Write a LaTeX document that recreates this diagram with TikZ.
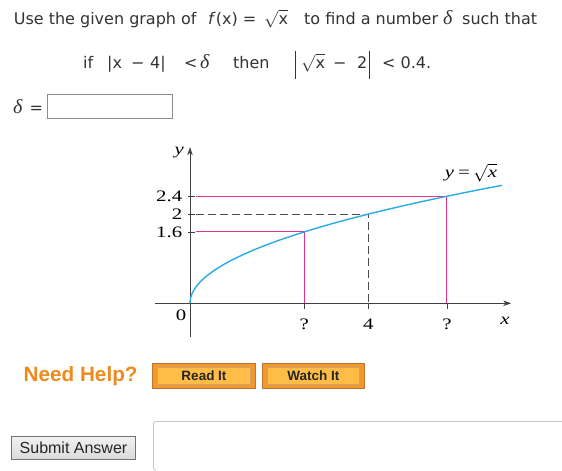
\documentclass[tikz,border=0pt]{standalone}
\usepackage{fontspec}
\setmainfont{DejaVu Sans}
\newfontfamily\graphfont[FakeStretch=1.3]{Liberation Serif}
\newfontfamily\deltafont{Liberation Serif}
\newfontfamily\helpfont{Liberation Sans}
\usetikzlibrary{arrows.meta}

\definecolor{curveblue}{HTML}{2BAAE6}
\definecolor{markpink}{HTML}{E8318F}
\definecolor{helporange}{HTML}{EE8A1E}
\definecolor{btnouter}{HTML}{F2982C}
\definecolor{btninner}{HTML}{FFBC46}
\definecolor{btnedge}{HTML}{BF7630}
\definecolor{textgray}{HTML}{333333}

\newcommand{\dlt}{{\deltafont\itshape\fontsize{20}{20}\selectfont δ}}
\newcommand{\absbar}{\raisebox{-11pt}{\rule{0.8pt}{28pt}}}

\tikzset{
  qtext/.style={anchor=base west, inner sep=0pt, text=textgray, font=\fontsize{16}{19}\selectfont},
  glabel/.style={inner sep=0pt, font=\graphfont\fontsize{16}{18}\selectfont},
  axis/.style={thick, black!75, -{Stealth[length=8pt,width=5.5pt]}},
  gtick/.style={black!75, thick},
  curve/.style={curveblue, line width=1.4pt},
  pinkline/.style={markpink, line width=0.9pt},
  dashline/.style={black!70, line width=0.9pt, dash pattern=on 8pt off 4pt},
  btnbox/.style={draw=btnedge, fill=btnouter, line width=0.8pt},
  btnface/.style={draw=btnedge!70, fill=btninner, line width=0.5pt},
  btntext/.style={inner sep=0pt, text=black!85, font=\helpfont\bfseries\fontsize{13.5}{15}\selectfont}
}

\begin{document}
\begin{tikzpicture}[x=1pt,y=-1pt]
    \useasboundingbox[fill=white] (0,0) rectangle (562,471);

    % question text, first line
    \node[qtext] (q-use) at (13.6,24) {Use the given graph of};
    \node[qtext] (q-fx) at (208,24) {\textit{f}(x) =};
    \node[qtext] (q-root) at (264,24) {$\sqrt{\mbox{x}}$};
    \node[qtext] (q-find) at (304,24) {to find a number};
    \node[qtext] (q-delta) at (443,24) {\dlt};
    \node[qtext] (q-such) at (462,24) {such that};

    % second line
    \node[qtext] (cond-if) at (83,68) {if};
    \node[qtext] (cond-x) at (107,68) {|x};
    \node[qtext] (cond-minus) at (131,68) {−};
    \node[qtext] (cond-four) at (150,68) {4|};
    \node[qtext] (cond-less) at (184,68) {<};
    \node[qtext] (cond-delta) at (200,68) {\dlt};
    \node[qtext] (cond-then) at (233,68) {then};
    \node[qtext] (abs-left) at (295,68) {\absbar};
    \node[qtext] (abs-root) at (301,68) {$\sqrt{\mbox{x}}$};
    \node[qtext] (abs-minus) at (333,68) {−};
    \node[qtext] (abs-two) at (357,68) {2};
    \node[qtext] (abs-right) at (368.5,68) {\absbar};
    \node[qtext] (cond-eps) at (382,68) {< 0.4.};

    \node[qtext] (delta-lbl) at (13,113) {\dlt};
    \node[qtext] (delta-eq) at (29.5,113) {=};
    \draw[black!45] (47.5,94.5) rectangle (172.5,118.5);

    % graph of sqrt(x)
    \begin{scope}[shift={(190,303.3)}, x=44.6pt, y=44.6pt]
        \coordinate (x-left) at (-0.78,0);
        \coordinate (x-right) at (7.2,0);
        \coordinate (y-bot) at (0,-0.76);
        \coordinate (y-top) at (0,3.5);
        \draw[axis] (x-left) -- (x-right);
        \draw[axis] (y-bot) -- (y-top);

        \draw[dashline] (0.13,2) -- (4,2) -- (4,0);
        \draw[pinkline] (0.13,2.4) -- (5.76,2.4) -- (5.76,0);
        \draw[pinkline] (0.13,1.6) -- (2.56,1.6) -- (2.56,0);

        \draw[curve] plot[domain=0:2.646, samples=90] ({\x*\x},{\x});

        \foreach \yv in {1.6,2,2.4}
            \draw[gtick] (-0.05,\yv) -- (0.12,\yv);
        \foreach \xv in {2.56,4,5.76}
            \draw[gtick] (\xv,0) -- (\xv,-0.12);

        \node[glabel, anchor=east] (lbl-24) at (-0.17,2.4) {2.4};
        \node[glabel, anchor=east] (lbl-2) at (-0.17,2) {2};
        \node[glabel, anchor=east] (lbl-16) at (-0.17,1.6) {1.6};
        \node[glabel] (lbl-0) at (-0.2,-0.27) {0};
        \node[glabel] (lbl-q1) at (2.56,-0.47) {?};
        \node[glabel] (lbl-4) at (4,-0.47) {4};
        \node[glabel] (lbl-q2) at (5.76,-0.47) {?};
        \node[glabel] (lbl-x) at (7.06,-0.4) {\itshape x};
        \node[glabel] (lbl-y) at (-0.24,3.38) {\itshape y};
        \node[glabel] (lbl-fn) at (6.3,2.93) {\itshape y\,=\,$\sqrt{\mbox{\itshape x}}$};
    \end{scope}

    % help row
    \node[anchor=west, inner sep=0pt, text=helporange, font=\helpfont\bfseries\fontsize{20.7}{22}\selectfont] (need-help) at (23.5,376) {Need Help?};

    \draw[btnbox] (152.3,363.5) rectangle (255.7,388.3);
    \draw[btnface] (157.3,367.5) rectangle (250.7,384.3);
    \node[btntext] (read-it) at (204,376) {Read It};

    \draw[btnbox] (262.3,363.5) rectangle (364.3,388.3);
    \draw[btnface] (267.3,367.5) rectangle (359.3,384.3);
    \node[btntext] (watch-it) at (313.3,376) {Watch It};

    % submit row
    \draw[draw=black!55, top color=black!5, bottom color=black!14] (11.5,436) rectangle (135.5,459);
    \node[inner sep=0pt, text=black!85, font=\helpfont\fontsize{16}{18}\selectfont] (submit) at (73.5,447.5) {Submit Answer};
    \draw[black!22, line width=0.8pt, rounded corners=2pt] (562,421.5) -- (153.5,421.5) -- (153.5,470) -- (156,470);
\end{tikzpicture}
\end{document}
